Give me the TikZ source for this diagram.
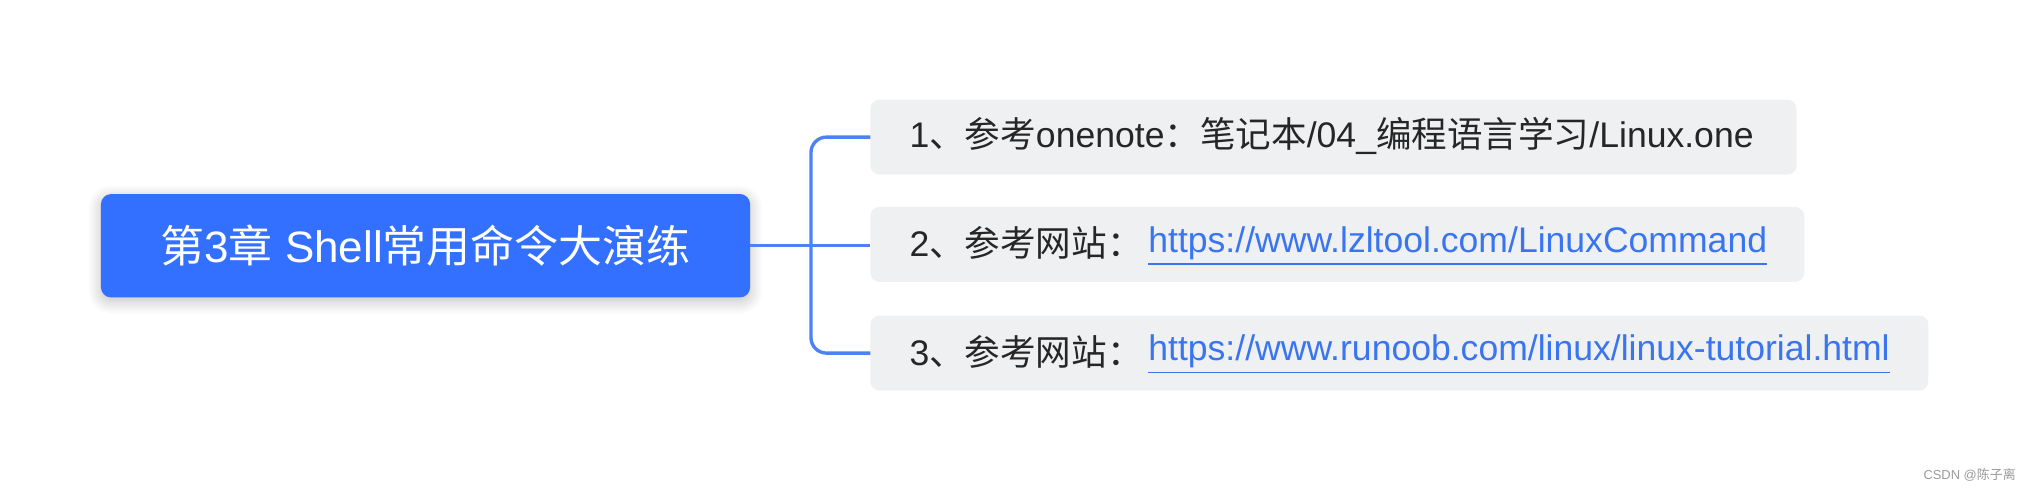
\documentclass[tikz,border=0pt]{standalone}
\usepackage{fontspec}
\setmainfont{Liberation Sans}
\newfontfamily\cjk{Noto Sans CJK SC}
\usetikzlibrary{shadows.blur}
\definecolor{rootblue}{HTML}{3370FF}
\definecolor{linkblue}{HTML}{3A75F0}
\definecolor{linecol}{HTML}{4C82F5}
\definecolor{boxgray}{HTML}{EFF0F2}
\tikzset{
  child/.style={fill=boxgray,rounded corners=7pt,draw=none},
  ctext/.style={anchor=west,inner sep=0pt,font=\fontsize{27.5}{32}\selectfont,text=black!85},
  ltext/.style={anchor=west,inner sep=0pt,font=\fontsize{27.5}{32}\selectfont,text=linkblue},
  conn/.style={draw=linecol,line width=2.6pt,rounded corners=12pt}
}
\begin{document}
\begin{tikzpicture}[x=1pt,y=-1pt]
\useasboundingbox (0,0) rectangle (1568,380);
\node[fill=rootblue,rounded corners=8pt,minimum width=502pt,minimum height=80pt,text=white,font=\fontsize{34}{40}\selectfont,blur shadow={shadow blur steps=10,shadow xshift=0pt,shadow yshift=-3pt,shadow blur radius=10pt,shadow opacity=25}] (root) at (329,190) {{\cjk 第}3{\cjk 章} Shell{\cjk 常用命令大演练}};
\path[child] (673,77) rectangle (1389,135); \coordinate (c1) at (673,106);
\path[child] (673,160) rectangle (1395,218); \coordinate (c2) at (673,190);
\path[child] (673,244) rectangle (1491,302); \coordinate (c3) at (673,273);
\node[ctext] (t1) at (703,105) {1{\cjk 、参考}onenote{\cjk ：笔记本}/04\_{\cjk 编程语言学习}/Linux.one};
\node[ctext] (t2) at (703,188) {2{\cjk 、参考网站：}};
\node[ltext] (l2) at ([xshift=4pt]t2.east) {https://www.lzltool.com/LinuxCommand};
\node[ctext] (t3) at (703,272) {3{\cjk 、参考网站：}};
\node[ltext] (l3) at ([xshift=4pt]t3.east) {https://www.runoob.com/linux/linux-tutorial.html};
\draw[linkblue,line width=1pt] ([yshift=-3pt]l2.south west) -- ([yshift=-3pt]l2.south east);
\draw[linkblue,line width=1pt] ([yshift=-3pt]l3.south west) -- ([yshift=-3pt]l3.south east);
\coordinate (j) at (627,190);
\draw[conn] (root.east) -- (j);
\draw[conn] (c1) -| (j) |- (c3);
\draw[conn] (j) -- (c2);
\node[anchor=east,text=black!40,font=\fontsize{10}{12}\selectfont] (wm) at (1562,367) {CSDN @{\cjk 陈子离}};
\end{tikzpicture}
\end{document}
